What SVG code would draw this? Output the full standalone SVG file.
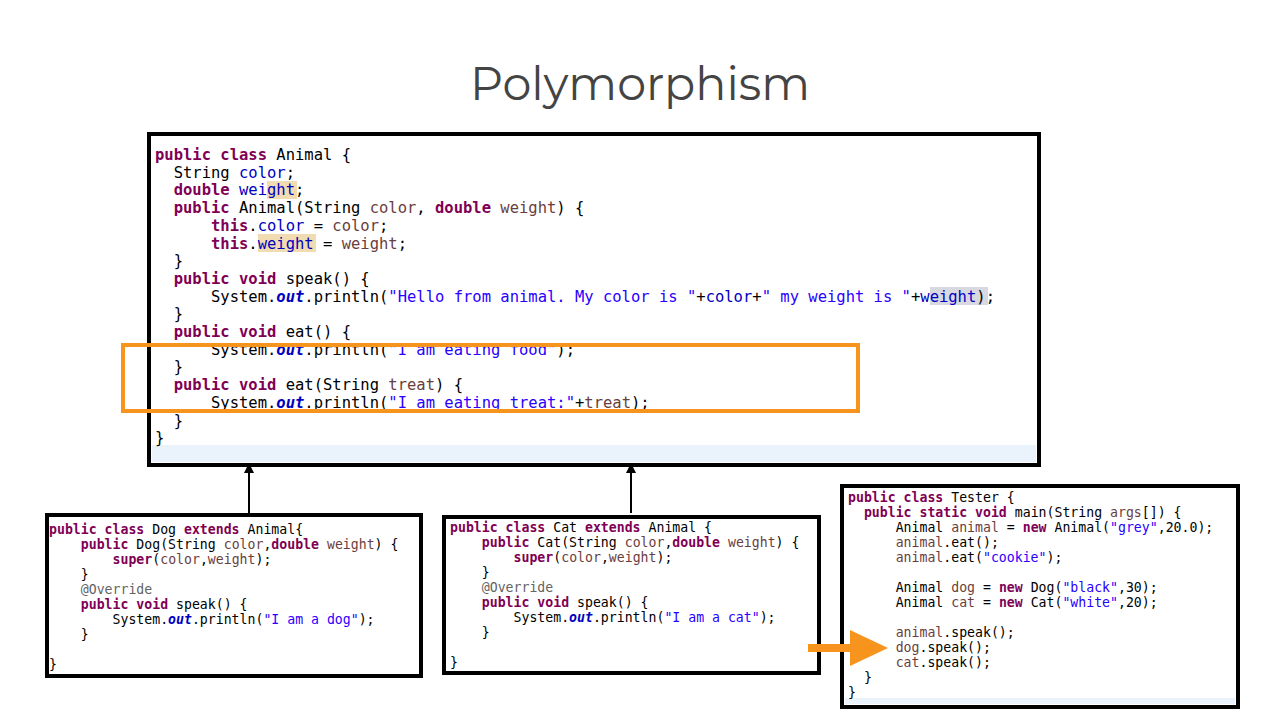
<svg xmlns="http://www.w3.org/2000/svg" width="1280" height="720" viewBox="0 0 1280 720">
<style>
.c{font-family:"DejaVu Sans Mono","Liberation Mono",monospace;fill:#000;white-space:pre}
.m{font-size:15.5px}.s{font-size:13.2px}
.k{fill:#7f0055;font-weight:bold}.f{fill:#0000c0}.t{fill:#2a00ff}.v{fill:#6a3e3e}.a{fill:#646464}
.o{fill:#0000c0;font-weight:bold;font-style:italic}
.box{fill:#fff;stroke:#000;stroke-width:4}
</style>
<defs><marker id="ah" markerWidth="10" markerHeight="10" refX="5" refY="5" orient="auto" markerUnits="userSpaceOnUse"><path d="M0,0 L10,5 L0,10 z" fill="#000"/></marker></defs>
<text x="640" y="100" text-anchor="middle" font-family="Montserrat,'Open Sans','Liberation Sans',sans-serif" font-size="46" fill="#444">Polymorphism</text>
<g id="animal">
<rect class="box" x="149" y="134" width="890" height="331"/>
<rect x="152" y="445" width="884" height="17" fill="#eaf2fb"/>
<rect x="267" y="181" width="30" height="18" fill="#f0dcb0"/>
<rect x="258" y="234" width="58" height="18" fill="#f0dcb0"/>
<rect x="930" y="287" width="58" height="18" fill="#d8d8e0"/>
<text class="c m" xml:space="preserve"><tspan x="155" y="160"><tspan class="k">public class</tspan> Animal {</tspan><tspan x="155" y="177.7">  String <tspan class="f">color</tspan>;</tspan><tspan x="155" y="195.4">  <tspan class="k">double</tspan> <tspan class="f">weight</tspan>;</tspan><tspan x="155" y="213.1">  <tspan class="k">public</tspan> Animal(String <tspan class="v">color</tspan>, <tspan class="k">double</tspan> <tspan class="v">weight</tspan>) {</tspan><tspan x="155" y="230.8">      <tspan class="k">this</tspan>.<tspan class="f">color</tspan> = <tspan class="v">color</tspan>;</tspan><tspan x="155" y="248.5">      <tspan class="k">this</tspan>.<tspan class="f">weight</tspan> = <tspan class="v">weight</tspan>;</tspan><tspan x="155" y="266.2">  }</tspan><tspan x="155" y="283.9">  <tspan class="k">public void</tspan> speak() {</tspan><tspan x="155" y="301.6">      System.<tspan class="o">out</tspan>.println(<tspan class="t">"Hello from animal. My color is "</tspan>+<tspan class="f">color</tspan>+<tspan class="t">" my weight is "</tspan>+<tspan class="f">weight</tspan>);</tspan><tspan x="155" y="319.3">  }</tspan><tspan x="155" y="337">  <tspan class="k">public void</tspan> eat() {</tspan><tspan x="155" y="354.7">      System.<tspan class="o">out</tspan>.println(<tspan class="t">"I am eating food"</tspan>);</tspan><tspan x="155" y="372.4">  }</tspan><tspan x="155" y="390.1">  <tspan class="k">public void</tspan> eat(String <tspan class="v">treat</tspan>) {</tspan><tspan x="155" y="407.8">      System.<tspan class="o">out</tspan>.println(<tspan class="t">"I am eating treat:"</tspan>+<tspan class="v">treat</tspan>);</tspan><tspan x="155" y="425.5">  }</tspan><tspan x="155" y="443.2">}</tspan></text>
<rect x="123" y="345" width="735" height="66" fill="none" stroke="#f7941d" stroke-width="4"/>
</g>
<g id="dog">
<rect class="box" x="47" y="515" width="374" height="161"/>
<text class="c s" xml:space="preserve"><tspan x="49" y="534"><tspan class="k">public class</tspan> Dog <tspan class="k">extends</tspan> Animal{</tspan><tspan x="49" y="549">    <tspan class="k">public</tspan> Dog(String <tspan class="v">color</tspan>,<tspan class="k">double</tspan> <tspan class="v">weight</tspan>) {</tspan><tspan x="49" y="564">        <tspan class="k">super</tspan>(<tspan class="v">color</tspan>,<tspan class="v">weight</tspan>);</tspan><tspan x="49" y="579">    }</tspan><tspan x="49" y="594">    <tspan class="a">@Override</tspan></tspan><tspan x="49" y="609">    <tspan class="k">public void</tspan> speak() {</tspan><tspan x="49" y="624">        System.<tspan class="o">out</tspan>.println(<tspan class="t">"I am a dog"</tspan>);</tspan><tspan x="49" y="639">    }</tspan><tspan x="49" y="669">}</tspan></text>
</g>
<g id="cat">
<rect class="box" x="444" y="517" width="375" height="156"/>
<text class="c s" xml:space="preserve"><tspan x="450" y="532"><tspan class="k">public class</tspan> Cat <tspan class="k">extends</tspan> Animal {</tspan><tspan x="450" y="547">    <tspan class="k">public</tspan> Cat(String <tspan class="v">color</tspan>,<tspan class="k">double</tspan> <tspan class="v">weight</tspan>) {</tspan><tspan x="450" y="562">        <tspan class="k">super</tspan>(<tspan class="v">color</tspan>,<tspan class="v">weight</tspan>);</tspan><tspan x="450" y="577">    }</tspan><tspan x="450" y="592">    <tspan class="a">@Override</tspan></tspan><tspan x="450" y="607">    <tspan class="k">public void</tspan> speak() {</tspan><tspan x="450" y="622">        System.<tspan class="o">out</tspan>.println(<tspan class="t">"I am a cat"</tspan>);</tspan><tspan x="450" y="637">    }</tspan><tspan x="450" y="667">}</tspan></text>
</g>
<g id="tester">
<rect class="box" x="842" y="486" width="396" height="221"/>
<rect x="845" y="698" width="390" height="6" fill="#eaf2fb"/>
<text class="c s" xml:space="preserve"><tspan x="848" y="502"><tspan class="k">public class</tspan> Tester {</tspan><tspan x="848" y="517">  <tspan class="k">public static void</tspan> main(String <tspan class="v">args</tspan>[]) {</tspan><tspan x="848" y="532">      Animal <tspan class="v">animal</tspan> = <tspan class="k">new</tspan> Animal(<tspan class="t">"grey"</tspan>,20.0);</tspan><tspan x="848" y="547">      <tspan class="v">animal</tspan>.eat();</tspan><tspan x="848" y="562">      <tspan class="v">animal</tspan>.eat(<tspan class="t">"cookie"</tspan>);</tspan><tspan x="848" y="592">      Animal <tspan class="v">dog</tspan> = <tspan class="k">new</tspan> Dog(<tspan class="t">"black"</tspan>,30);</tspan><tspan x="848" y="607">      Animal <tspan class="v">cat</tspan> = <tspan class="k">new</tspan> Cat(<tspan class="t">"white"</tspan>,20);</tspan><tspan x="848" y="637">      <tspan class="v">animal</tspan>.speak();</tspan><tspan x="848" y="652">      <tspan class="v">dog</tspan>.speak();</tspan><tspan x="848" y="667">      <tspan class="v">cat</tspan>.speak();</tspan><tspan x="848" y="682">  }</tspan><tspan x="848" y="697">}</tspan></text>
</g>
<g id="connectors">
<line x1="249" y1="513" x2="249" y2="468" stroke="#000" stroke-width="2" marker-end="url(#ah)"/>
<line x1="631" y1="513" x2="631" y2="468" stroke="#000" stroke-width="2" marker-end="url(#ah)"/>
<path d="M808,644 H850 V630 L888,648 L850,666 V652 H808 z" fill="#f7941d"/>
</g>
</svg>
